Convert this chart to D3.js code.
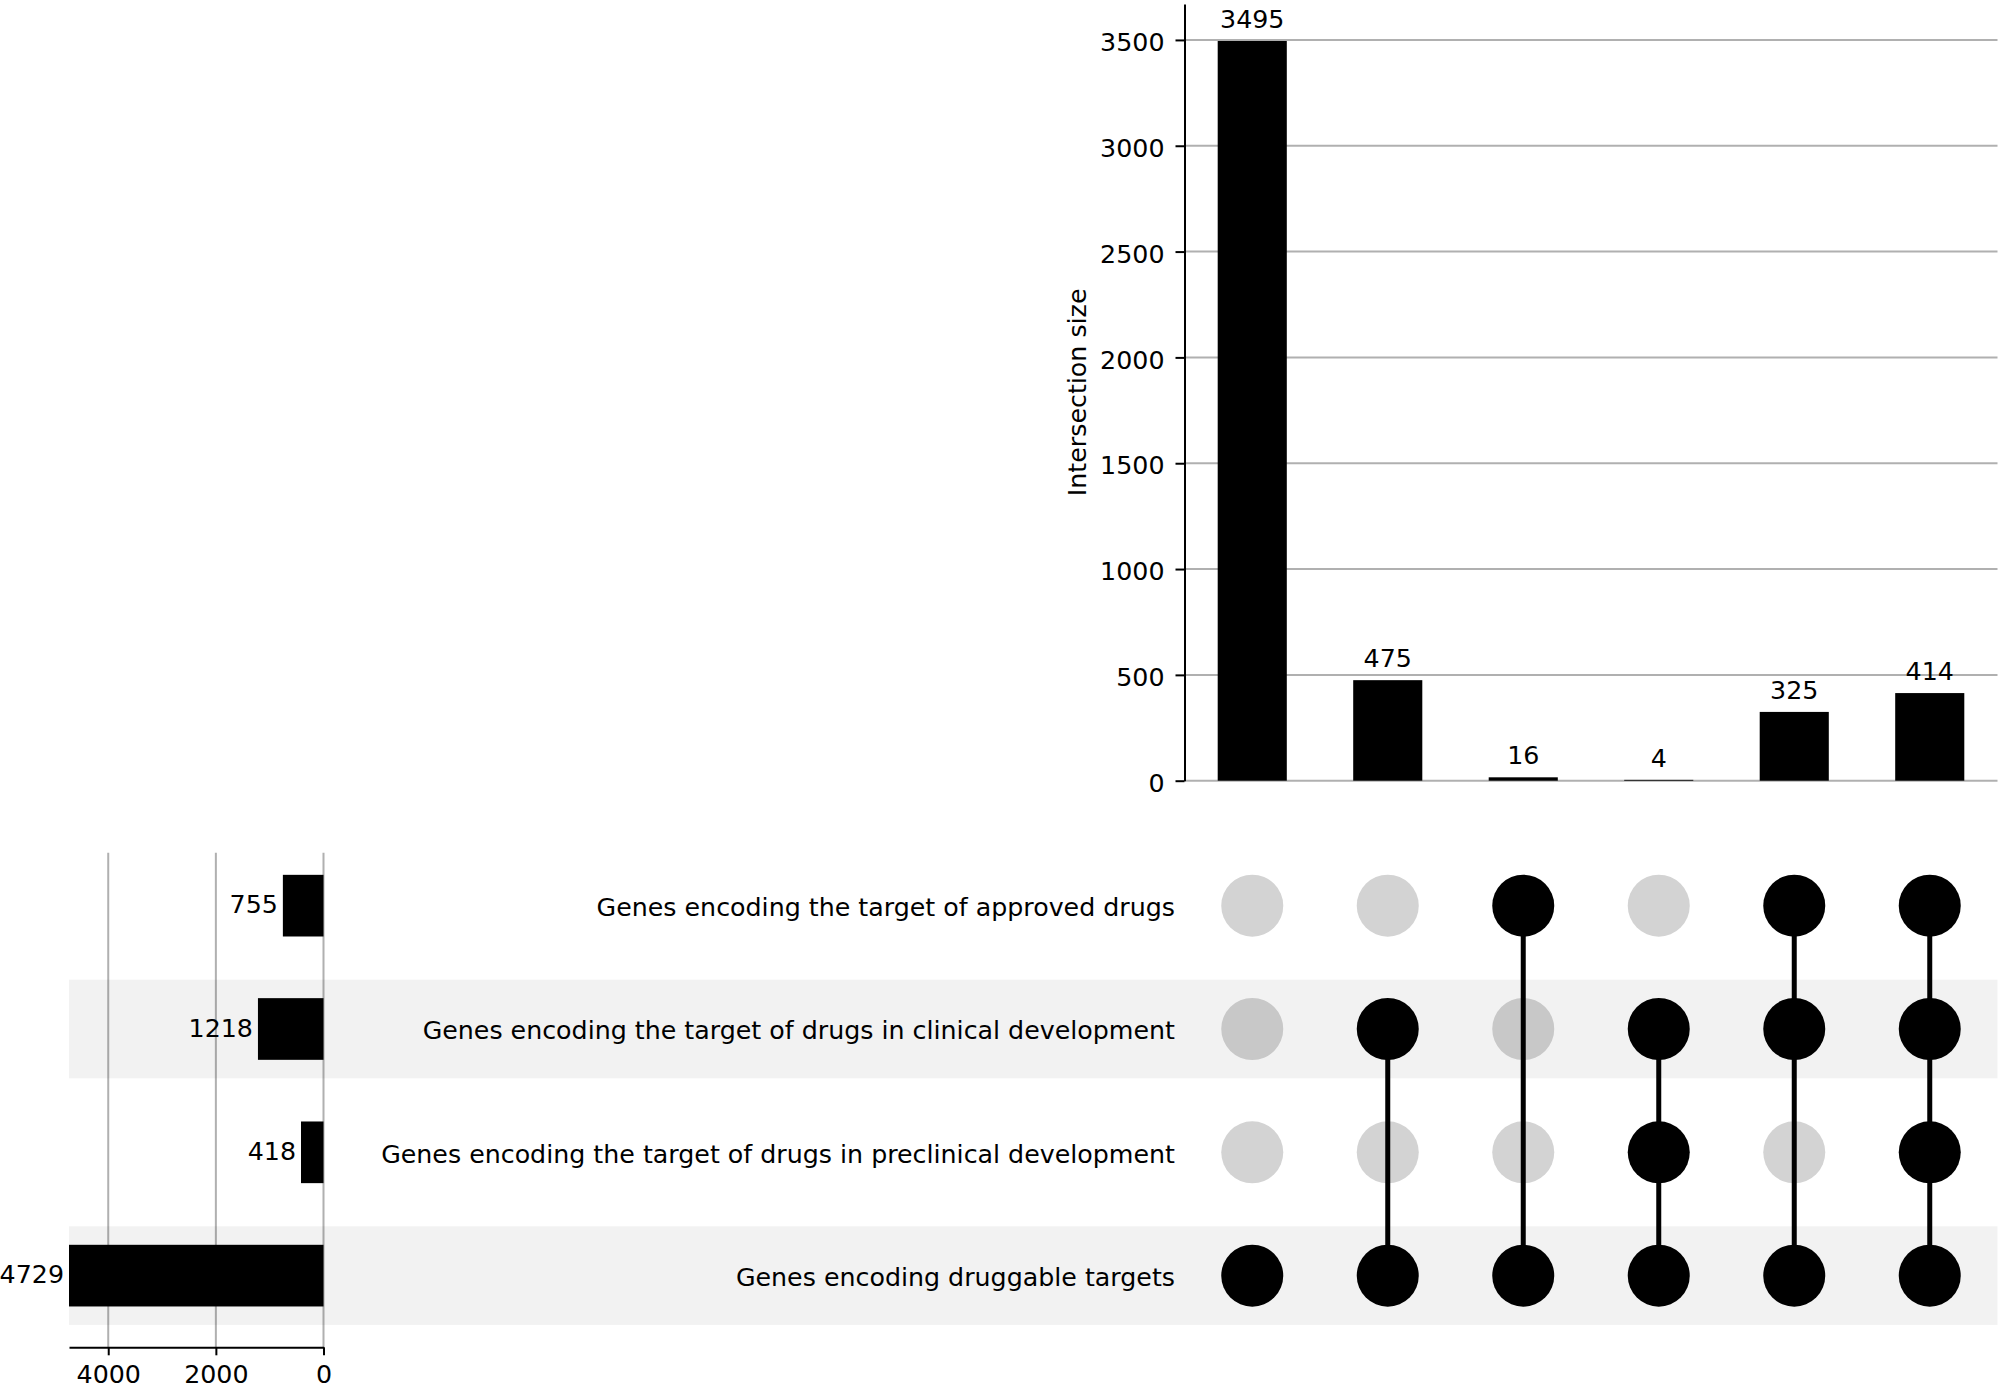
<!DOCTYPE html>
<html>
<head>
<meta charset="utf-8">
<script src="https://cdn.jsdelivr.net/npm/d3@7"></script>
<style>
    body { margin: 0; background: #fff; }
    text { font-family: "DejaVu Sans", sans-serif; fill: #000; }
</style>
</head>
<body>
<div id="upset"></div>
<script>
// sets, listed top to bottom as in the matrix
var setNames = [
    "Genes encoding the target of approved drugs",
    "Genes encoding the target of drugs in clinical development",
    "Genes encoding the target of drugs in preclinical development",
    "Genes encoding druggable targets"
];
var setSizes = [755, 1218, 418, 4729];

// intersections, left to right
var intersectionSizes = [3495, 475, 16, 4, 325, 414];
// 1 = set is part of the intersection (same order as setNames)
var memberships = [
    [0, 0, 0, 1],
    [0, 1, 0, 1],
    [1, 0, 0, 1],
    [0, 1, 1, 1],
    [1, 1, 0, 1],
    [1, 1, 1, 1]
];

var intersectionTicks = [0, 500, 1000, 1500, 2000, 2500, 3000, 3500];
var setSizeTicks = [0, 2000, 4000];

UpSetPlot = function(_parentElement, _svgWidth, _svgHeight){
    var vis = this;

    this.parentElement = _parentElement;
    this.svgWidth = _svgWidth;
    this.svgHeight = _svgHeight;
    this.fontSize = 25.3;

    // matrix / intersection bars share the same columns
    this.colLeft = 1184.5;
    this.colRight = 1997.5;
    this.barTop = 4;
    this.barBottom = 780.7;

    // matrix rows
    this.rowTop = 844;
    this.rowBottom = 1337.3;

    // set size bars on the left
    this.totalsLeft = 69;
    this.totalsRight = 323.5;
    this.totalsGridTop = 852.7;
    this.totalsAxisY = 1347.3;

    this.dotRadius = 31;
    this.inactiveColor = "#d3d3d3";
    this.gridColor = "#b0b0b0";

    vis.initVis();
};

UpSetPlot.prototype.initVis = function() {
    var vis = this;

    vis.initSVG();
    vis.initScales();
    vis.drawIntersections();
    vis.drawTotals();
    vis.drawMatrix();
};

UpSetPlot.prototype.initSVG = function() {
    var vis = this;

    vis.svg = d3.select("#" + vis.parentElement).append("svg")
        .attr("width", vis.svgWidth)
        .attr("height", vis.svgHeight)
        .style("display", "block")
        .style("font-family", "DejaVu Sans, sans-serif");
};

UpSetPlot.prototype.initScales = function() {
    var vis = this;

    vis.x = d3.scaleBand()
        .domain(d3.range(intersectionSizes.length))
        .range([vis.colLeft, vis.colRight]);

    vis.y = d3.scaleLinear()
        .domain([0, d3.max(intersectionSizes) * 1.05])
        .range([vis.barBottom, vis.barTop]);

    vis.row = d3.scaleBand()
        .domain(d3.range(setNames.length))
        .range([vis.rowTop, vis.rowBottom]);

    vis.totalsX = d3.scaleLinear()
        .domain([0, d3.max(setSizes)])
        .range([vis.totalsRight, vis.totalsLeft]);
};

UpSetPlot.prototype.drawIntersections = function() {
    var vis = this;
    var g = vis.svg.append("g").attr("id", "intersections");
    var barWidth = vis.x.step() * 0.51;

    // horizontal grid
    g.selectAll(".grid")
        .data(intersectionTicks)
        .enter().append("line")
        .attr("x1", vis.colLeft)
        .attr("x2", vis.colRight)
        .attr("y1", function(d) { return vis.y(d); })
        .attr("y2", function(d) { return vis.y(d); })
        .attr("stroke", vis.gridColor)
        .attr("stroke-width", 2);

    g.selectAll(".bar")
        .data(intersectionSizes)
        .enter().append("rect")
        .attr("x", function(d, i) { return vis.x(i) + vis.x.bandwidth() / 2 - barWidth / 2; })
        .attr("y", function(d) { return vis.y(d); })
        .attr("width", barWidth)
        .attr("height", function(d) { return vis.y(0) - vis.y(d); })
        .attr("fill", "#000");

    g.selectAll(".barLabel")
        .data(intersectionSizes)
        .enter().append("text")
        .attr("x", function(d, i) { return vis.x(i) + vis.x.bandwidth() / 2; })
        .attr("y", function(d) { return vis.y(d) - 13; })
        .attr("text-anchor", "middle")
        .attr("font-size", vis.fontSize + "px")
        .text(function(d) { return d; });

    var axis = g.append("g")
        .attr("transform", "translate(" + vis.colLeft + ",0)")
        .call(d3.axisLeft(vis.y)
            .tickValues(intersectionTicks)
            .tickFormat(d3.format("d"))
            .tickSize(9)
            .tickSizeOuter(0)
            .tickPadding(11));
    axis.select(".domain").attr("stroke-width", 2);
    axis.selectAll(".tick line").attr("stroke-width", 2);
    axis.selectAll(".tick text")
        .attr("font-size", vis.fontSize + "px")
        .attr("font-family", "DejaVu Sans, sans-serif")
        .attr("dy", "0.42em");

    g.append("text")
        .attr("transform", "translate(1086," + (vis.barTop + vis.barBottom) / 2 + ") rotate(-90)")
        .attr("text-anchor", "middle")
        .attr("font-size", vis.fontSize + "px")
        .text("Intersection size");
};

UpSetPlot.prototype.drawTotals = function() {
    var vis = this;
    var g = vis.svg.append("g").attr("id", "totals");
    var barHeight = vis.row.step() * 0.5;

    g.selectAll(".grid")
        .data(setSizeTicks)
        .enter().append("line")
        .attr("x1", function(d) { return vis.totalsX(d); })
        .attr("x2", function(d) { return vis.totalsX(d); })
        .attr("y1", vis.totalsGridTop)
        .attr("y2", vis.totalsAxisY)
        .attr("stroke", vis.gridColor)
        .attr("stroke-width", 2);

    g.selectAll(".bar")
        .data(setSizes)
        .enter().append("rect")
        .attr("x", function(d) { return vis.totalsX(d); })
        .attr("y", function(d, i) { return vis.row(i) + vis.row.bandwidth() / 2 - barHeight / 2; })
        .attr("width", function(d) { return vis.totalsX(0) - vis.totalsX(d); })
        .attr("height", barHeight)
        .attr("fill", "#000");

    g.selectAll(".barLabel")
        .data(setSizes)
        .enter().append("text")
        .attr("x", function(d) { return vis.totalsX(d) - 5; })
        .attr("y", function(d, i) { return vis.row(i) + vis.row.bandwidth() / 2; })
        .attr("dy", "0.3em")
        .attr("text-anchor", "end")
        .attr("font-size", vis.fontSize + "px")
        .text(function(d) { return d; });

    // labels sit against the bottom edge, as in the original
    var axis = g.append("g")
        .attr("transform", "translate(0," + vis.totalsAxisY + ")")
        .call(d3.axisBottom(vis.totalsX)
            .tickValues(setSizeTicks)
            .tickFormat(d3.format("d"))
            .tickSize(8)
            .tickSizeOuter(0)
            .tickPadding(10));
    axis.select(".domain").attr("stroke-width", 2);
    axis.selectAll(".tick line").attr("stroke-width", 2);
    axis.selectAll(".tick text")
        .attr("font-size", vis.fontSize + "px")
        .attr("font-family", "DejaVu Sans, sans-serif");
};

UpSetPlot.prototype.drawMatrix = function() {
    var vis = this;
    var g = vis.svg.append("g").attr("id", "matrix");

    // set names
    g.selectAll(".setLabel")
        .data(setNames)
        .enter().append("text")
        .attr("x", 1175)
        .attr("y", function(d, i) { return vis.row(i) + vis.row.bandwidth() / 2; })
        .attr("dy", "0.41em")
        .attr("text-anchor", "end")
        .attr("font-size", vis.fontSize + "px")
        .text(function(d) { return d; });

    for (var i = 0; i < memberships.length; i++) {
        var cx = vis.x(i) + vis.x.bandwidth() / 2;
        var active = [];

        for (var j = 0; j < setNames.length; j++) {
            var cy = vis.row(j) + vis.row.bandwidth() / 2;
            if (memberships[i][j]) active.push(cy);
            g.append("circle")
                .attr("cx", cx)
                .attr("cy", cy)
                .attr("r", vis.dotRadius)
                .attr("fill", memberships[i][j] ? "#000" : vis.inactiveColor);
        }

        if (active.length > 1) {
            g.append("line")
                .attr("x1", cx)
                .attr("x2", cx)
                .attr("y1", d3.min(active))
                .attr("y2", d3.max(active))
                .attr("stroke", "#000")
                .attr("stroke-width", 5);
        }
    }

    // alternate row shading, laid over the matrix and the set size bars
    var shadeHeight = vis.row.step() * 0.8;
    g.selectAll(".shade")
        .data(d3.range(setNames.length).filter(function(d) { return d % 2 === 1; }))
        .enter().append("rect")
        .attr("x", vis.totalsLeft)
        .attr("y", function(d) { return vis.row(d) + vis.row.bandwidth() / 2 - shadeHeight / 2; })
        .attr("width", vis.colRight - vis.totalsLeft)
        .attr("height", shadeHeight)
        .attr("fill", "#000")
        .attr("fill-opacity", 0.05);
};

new UpSetPlot("upset", 2000, 1388);
</script>
</body>
</html>
